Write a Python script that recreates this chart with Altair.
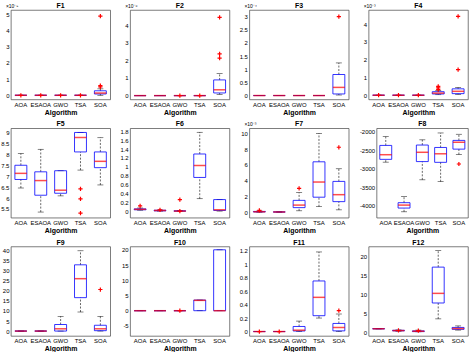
import altair as alt
import pandas as pd

ALGS = ["AOA", "ESAOA", "GWO", "TSA", "SOA"]

# ---------------- data (per panel: whisker low, q1, median, q3, whisker high, outliers) ----
F1_LO = [0, 0, 0, 0, 0.0]
F1_Q1 = [0, 0, 0, 0, 0.08]
F1_MED = [0, 0, 0, 0, 0.14]
F1_Q3 = [0, 0, 0, 0, 0.28]
F1_HI = [0, 0, 0, 0, 0.40]
F1_OUT = [[0, 0.0], [1, 0.0], [2, 0.0], [3, 0.0], [4, 0.52], [4, 0.60], [4, 4.9]]

F2_LO = [0, 0, 0, 0, 0.07]
F2_Q1 = [0, 0, 0, 0, 0.15]
F2_MED = [0, 0, 0, 0, 0.33]
F2_Q3 = [0, 0, 0, 0, 0.89]
F2_HI = [0, 0, 0, 0, 1.26]
F2_OUT = [[2, 0.0], [3, 0.0], [4, 2.13], [4, 2.37], [4, 4.44]]

F3_LO = [0, 0, 0, 0, 0.02]
F3_Q1 = [0, 0, 0, 0, 0.06]
F3_MED = [0, 0, 0, 0, 0.31]
F3_Q3 = [0, 0, 0, 0, 0.80]
F3_HI = [0, 0, 0, 0, 1.24]
F3_OUT = [[4, 3.0]]

F4_LO = [0, 0, 0, 0.03, 0.05]
F4_Q1 = [0, 0, 0, 0.07, 0.09]
F4_MED = [0, 0, 0, 0.12, 0.22]
F4_Q3 = [0, 0, 0, 0.20, 0.36]
F4_HI = [0, 0, 0, 0.26, 0.44]
F4_OUT = [[0, 0.0], [1, 0.0], [2, 0.0], [3, 0.32], [3, 0.42], [3, 0.50], [4, 1.44], [4, 4.44]]

F5_LO = [6.46, 5.36, 6.10, 7.28, 6.60]
F5_Q1 = [6.85, 6.13, 6.22, 8.11, 7.39]
F5_MED = [7.13, 6.80, 6.36, 8.77, 7.68]
F5_Q3 = [7.50, 7.20, 7.25, 9.00, 8.11]
F5_HI = [8.04, 8.23, 7.25, 9.00, 8.76]
F5_OUT = [[3, 6.42], [3, 5.96], [3, 5.31]]

F6_LO = [0.02, 0.0, 0.0, 0.28, 0.0]
F6_Q1 = [0.03, 0.005, 0.0, 0.76, 0.014]
F6_MED = [0.04, 0.014, 0.0, 1.03, 0.03]
F6_Q3 = [0.05, 0.02, 0.005, 1.29, 0.26]
F6_HI = [0.07, 0.025, 0.01, 1.78, 0.26]
F6_OUT = [[0, 0.12], [1, 0.03], [2, 0.0], [2, 0.26]]

F7_LO = [0.02, 0.02, 0.20, 0.72, 0.32]
F7_Q1 = [0.05, 0.04, 0.60, 1.92, 1.36]
F7_MED = [0.08, 0.05, 0.92, 3.84, 2.24]
F7_Q3 = [0.12, 0.06, 1.52, 6.40, 3.92]
F7_HI = [0.18, 0.08, 2.50, 10.0, 5.52]
F7_OUT = [[0, 0.25], [2, 3.04], [4, 8.24]]

F8_LO = [-2825, -4160, -3300, -3350, -2620]
F8_Q1 = [-2750, -4060, -2810, -2830, -2475]
F8_MED = [-2625, -3980, -2560, -2600, -2290]
F8_Q3 = [-2375, -3915, -2365, -2430, -2240]
F8_HI = [-2140, -3750, -2225, -2040, -2075]
F8_OUT = [[4, -2875]]

F9_LO = [0, 0, 0.0, 9.5, 0.0]
F9_Q1 = [0, 0, 0.0, 16.65, 0.2]
F9_MED = [0, 0, 1.14, 26.1, 1.14]
F9_Q3 = [0, 0, 3.27, 33.0, 2.9]
F9_HI = [0, 0, 7.35, 40.0, 7.35]
F9_OUT = [[4, 20.7]]

F10_LO = [0, 0, 0, 0, 0]
F10_Q1 = [0, 0, 0, 0, 0]
F10_MED = [0, 0, 0, 3.4, 0]
F10_Q3 = [0, 0, 0, 3.5, 20.0]
F10_HI = [0, 0, 0, 3.5, 20.0]
F10_OUT = [[2, 0.0]]

F11_LO = [0, 0, 0.0, 0.20, 0.0]
F11_Q1 = [0, 0, 0.008, 0.235, 0.01]
F11_MED = [0, 0, 0.02, 0.507, 0.06]
F11_Q3 = [0, 0, 0.075, 0.75, 0.12]
F11_HI = [0, 0, 0.155, 1.18, 0.26]
F11_OUT = [[0, 0.0], [1, 0.0], [4, 0.31]]

F12_LO = [0.85, 0.25, 0.10, 3.5, 0.55]
F12_Q1 = [0.85, 0.35, 0.15, 7.67, 0.75]
F12_MED = [0.90, 0.42, 0.25, 10.2, 0.95]
F12_Q3 = [0.95, 0.50, 0.35, 17.1, 1.25]
F12_HI = [0.95, 0.60, 0.55, 21.5, 1.65]
F12_OUT = [[1, 0.45], [2, 0.4]]

FONT = "Liberation Sans"
CROSS = "M-1,0L1,0M0,-1L0,1"


def panel(name, lo, q1, med, q3, hi, out, domain, ticks, exp=None, extent=10, width=100, height=90):
    box = pd.DataFrame({"alg": ALGS, "lo": lo, "q1": q1, "med": med, "q3": q3, "hi": hi})
    outdf = pd.DataFrame({"alg": [ALGS[i] for i, _ in out], "v": [v for _, v in out]})
    xs = alt.Scale(domain=ALGS, paddingInner=0, paddingOuter=0)
    xenc = alt.X("alg:N", sort=ALGS, scale=xs,
                 axis=alt.Axis(title="Algorithm", labelAngle=0, labelFontSize=6,
                               titleFontSize=7, titleFontWeight="bold", titlePadding=1,
                               labelPadding=2, ticks=False, domain=False, labelColor="#000",
                               titleColor="#000"))
    ys = alt.Scale(domain=domain, nice=False, zero=False)
    yax = alt.Axis(values=ticks, labelExpr="'' + datum.value", grid=False, title=None,
                   labelFontSize=6, ticks=False, labelPadding=2, domain=False,
                   minExtent=extent, maxExtent=extent, labelColor="#000")
    base = alt.Chart(box)
    w1 = base.mark_rule(color="black", strokeWidth=0.6, strokeDash=[2, 1.5]).encode(
        x=xenc, y=alt.Y("lo:Q", scale=ys, axis=yax), y2="q1:Q")
    w2 = base.mark_rule(color="black", strokeWidth=0.6, strokeDash=[2, 1.5]).encode(
        x=xenc, y=alt.Y("q3:Q", scale=ys, axis=yax), y2="hi:Q")
    c1 = base.mark_tick(color="black", size=6, thickness=0.7).encode(
        x=xenc, y=alt.Y("lo:Q", scale=ys, axis=yax))
    c2 = base.mark_tick(color="black", size=6, thickness=0.7).encode(
        x=xenc, y=alt.Y("hi:Q", scale=ys, axis=yax))
    bx = base.mark_bar(size=12, fillOpacity=0, stroke="#0000ff", strokeWidth=0.8).encode(
        x=xenc, y=alt.Y("q1:Q", scale=ys, axis=yax), y2="q3:Q")
    md = base.mark_tick(color="red", size=12, thickness=1.5).encode(
        x=xenc, y=alt.Y("med:Q", scale=ys, axis=yax))
    ol = alt.Chart(outdf).mark_point(shape=CROSS, filled=False, color="red",
                                     strokeWidth=1.2, size=18, opacity=1).encode(
        x=xenc, y=alt.Y("v:Q", scale=ys, axis=yax))
    tt = alt.Chart(pd.DataFrame({"t": [name]})).mark_text(
        align="center", baseline="bottom", fontSize=7, fontWeight="bold", font=FONT,
        color="#000").encode(x=alt.value(width / 2), y=alt.value(-1), text="t:N")
    layers = [w1, w2, c1, c2, bx, md, ol, tt]
    if exp:
        tx = alt.Chart(pd.DataFrame({"t": [exp]})).mark_text(
            align="left", baseline="bottom", fontSize=5, font=FONT, color="#000").encode(
            x=alt.value(-5), y=alt.value(-1), text="t:N")
        layers.append(tx)
    return alt.layer(*layers).properties(width=width, height=height)


p1 = panel("F1", F1_LO, F1_Q1, F1_MED, F1_Q3, F1_HI, F1_OUT, [-0.26, 5.28], [0, 1, 2, 3, 4, 5], "×10⁻⁹")
p2 = panel("F2", F2_LO, F2_Q1, F2_MED, F2_Q3, F2_HI, F2_OUT, [-0.22, 4.85], [0, 1, 2, 3, 4], "×10⁻⁶")
p3 = panel("F3", F3_LO, F3_Q1, F3_MED, F3_Q3, F3_HI, F3_OUT, [-0.15, 3.25], [0, 0.5, 1, 1.5, 2, 2.5, 3], "×10⁻⁴")
p4 = panel("F4", F4_LO, F4_Q1, F4_MED, F4_Q3, F4_HI, F4_OUT, [-0.24, 4.8], [0, 1, 2, 3, 4], "×10⁻³")
p5 = panel("F5", F5_LO, F5_Q1, F5_MED, F5_Q3, F5_HI, F5_OUT, [5.1, 9.19], [5.5, 6, 6.5, 7, 7.5, 8, 8.5, 9])
p6 = panel("F6", F6_LO, F6_Q1, F6_MED, F6_Q3, F6_HI, F6_OUT, [-0.15, 1.87], [0, 0.2, 0.4, 0.6, 0.8, 1, 1.2, 1.4, 1.6, 1.8])
p7 = panel("F7", F7_LO, F7_Q1, F7_MED, F7_Q3, F7_HI, F7_OUT, [-0.68, 10.64], [0, 2, 4, 6, 8, 10], "×10⁻³")
p8 = panel("F8", F8_LO, F8_Q1, F8_MED, F8_Q3, F8_HI, F8_OUT, [-4320, -1915], [-4000, -3500, -3000, -2500, -2000], extent=18, width=92)
p9 = panel("F9", F9_LO, F9_Q1, F9_MED, F9_Q3, F9_HI, F9_OUT, [-2.45, 42.1], [0, 5, 10, 15, 20, 25, 30, 35, 40])
p10 = panel("F10", F10_LO, F10_Q1, F10_MED, F10_Q3, F10_HI, F10_OUT, [-8.3, 21.06], [-5, 0, 5, 10, 15, 20])
p11 = panel("F11", F11_LO, F11_Q1, F11_MED, F11_Q3, F11_HI, F11_OUT, [-0.066, 1.26], [0, 0.2, 0.4, 0.6, 0.8, 1, 1.2])
p12 = panel("F12", F12_LO, F12_Q1, F12_MED, F12_Q3, F12_HI, F12_OUT, [-1.0, 22.5], [0, 5, 10, 15, 20])

row1 = alt.hconcat(p1, p2, p3, p4, spacing=8)
row2 = alt.hconcat(p5, p6, p7, p8, spacing=8)
row3 = alt.hconcat(p9, p10, p11, p12, spacing=8)

chart = alt.vconcat(row1, row2, row3, spacing=3).properties(
    padding={"left": 0, "top": 0, "right": 5, "bottom": 0},
    background="white",
).configure_view(stroke="#444", strokeWidth=0.7).configure_axis(
    labelFont=FONT, titleFont=FONT)

chart.save("out.html", embed_options={"renderer": "svg", "actions": False})
